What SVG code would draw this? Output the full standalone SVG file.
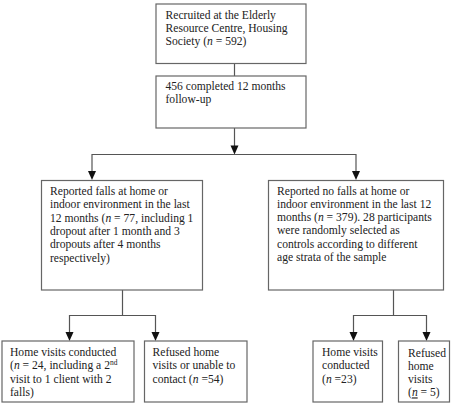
<svg xmlns="http://www.w3.org/2000/svg" width="474" height="405" viewBox="0 0 474 405">
<defs>
<style>
.box{fill:#fff;stroke:#666;stroke-width:1.2}
.ln{fill:none;stroke:#555;stroke-width:1.2}
.ah{fill:#111}
text{font-family:"Liberation Serif","Times New Roman",serif;font-size:11.6px;fill:#222}
.i{font-style:italic}
</style>
</defs>
<rect width="474" height="405" fill="#fff"/>
<g id="connectors">
<line class="ln" x1="234.5" y1="63.5" x2="234.5" y2="76"/>
<line class="ln" x1="234.5" y1="128" x2="234.5" y2="148"/>
<path class="ah" d="M230.5,145.5 L238.5,145.5 L234.5,154.5 Z"/>
<polyline class="ln" points="92,174 92,154.5 356,154.5 356,174"/>
<path class="ah" d="M88,171 L96,171 L92,180 Z"/>
<path class="ah" d="M352,171 L360,171 L356,180 Z"/>
<polyline class="ln" points="122.5,290 122.5,315.5"/>
<polyline class="ln" points="69.5,335 69.5,315.5 155.5,315.5 155.5,335"/>
<path class="ah" d="M65.5,332 L73.5,332 L69.5,341 Z"/>
<path class="ah" d="M151.5,332 L159.5,332 L155.5,341 Z"/>
<polyline class="ln" points="393.5,290 393.5,315.5"/>
<polyline class="ln" points="353.5,335 353.5,315.5 426.5,315.5 426.5,335"/>
<path class="ah" d="M349.5,332 L357.5,332 L353.5,341 Z"/>
<path class="ah" d="M422.5,332 L430.5,332 L426.5,341 Z"/>
</g>
<g id="n1">
<rect class="box" x="156" y="4" width="150" height="59.5"/>
<text x="165.5" y="18.5">Recruited at the Elderly</text>
<text x="165.5" y="31.5">Resource Centre, Housing</text>
<text x="165.5" y="44.5">Society (<tspan class="i">n</tspan> = 592)</text>
</g>
<g id="n2">
<rect class="box" x="156" y="76" width="150" height="52"/>
<text x="165.5" y="90">456 completed 12 months</text>
<text x="165.5" y="102.5">follow-up</text>
</g>
<g id="n3">
<rect class="box" x="41.5" y="180.5" width="161" height="109.5"/>
<text x="50" y="195">Reported falls at home or</text>
<text x="50" y="208.3">indoor environment in the last</text>
<text x="50" y="221.6">12 months (<tspan class="i">n</tspan> = 77, including 1</text>
<text x="50" y="234.9">dropout after 1 month and 3</text>
<text x="50" y="248.2">dropouts after 4 months</text>
<text x="50" y="261.5">respectively)</text>
</g>
<g id="n4">
<rect class="box" x="268.5" y="180.5" width="175" height="109.5"/>
<text x="277" y="194.5">Reported no falls at home or</text>
<text x="277" y="207.8">indoor environment in the last 12</text>
<text x="277" y="221.1">months (<tspan class="i">n</tspan> = 379). 28 participants</text>
<text x="277" y="234.4">were randomly selected as</text>
<text x="277" y="247.7">controls according to different</text>
<text x="277" y="261">age strata of the sample</text>
</g>
<g id="n5">
<rect class="box" x="2" y="341" width="132" height="61"/>
<text x="10" y="356">Home visits conducted</text>
<text x="10" y="369.3">(<tspan class="i">n</tspan> = 24, including a 2<tspan font-size="7.5" dy="-4">nd</tspan></text>
<text x="10" y="382.6">visit to 1 client with 2</text>
<text x="10" y="395.9">falls)</text>
</g>
<g id="n6">
<rect class="box" x="144.5" y="341" width="102.5" height="61"/>
<text x="152.5" y="356">Refused home</text>
<text x="152.5" y="369.3">visits or unable to</text>
<text x="152.5" y="382.6">contact (<tspan class="i">n</tspan> =54)</text>
</g>
<g id="n7">
<rect class="box" x="313" y="341" width="69.5" height="61"/>
<text x="322" y="356">Home visits</text>
<text x="322" y="369.3">conducted</text>
<text x="322" y="382.6">(<tspan class="i">n</tspan> =23)</text>
</g>
<g id="n8">
<rect class="box" x="398.5" y="341" width="51" height="61"/>
<text x="408" y="356.5">Refused</text>
<text x="408" y="369.8">home</text>
<text x="408" y="383.1">visits</text>
<text x="408" y="396.4">(<tspan class="i" text-decoration="underline">n</tspan> = 5)</text>
</g>
</svg>
